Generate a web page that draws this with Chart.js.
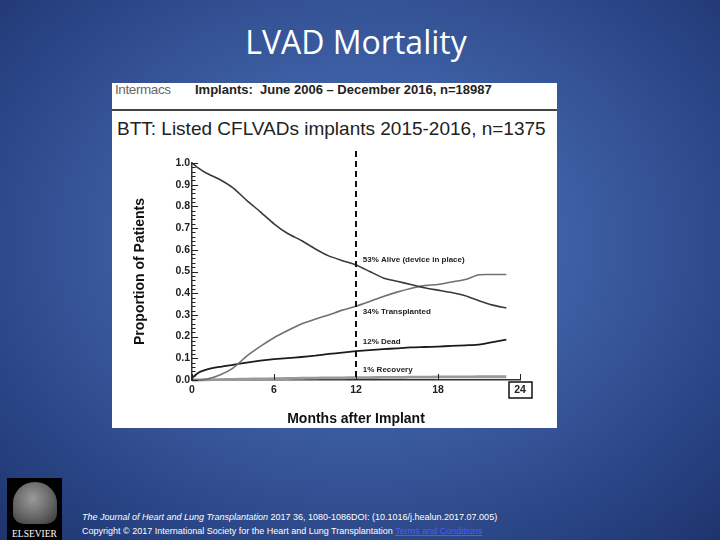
<!DOCTYPE html>
<html>
<head>
<meta charset="utf-8">
<script src="https://cdn.jsdelivr.net/npm/chart.js@4.4.1/dist/chart.umd.min.js"></script>
<style>
  html, body { margin: 0; padding: 0; }
  body {
    width: 720px; height: 540px; overflow: hidden; position: relative;
    background: radial-gradient(ellipse 75% 80% at 50% 45%, #4c6eb2 0%, #3d5ea3 40%, #26407f 80%, #1c3068 100%);
    font-family: "Liberation Sans", Arial, sans-serif;
  }
  #title {
    position: absolute; left: 0; width: 712px; top: 20px; text-align: center;
    color: #fff; font-family: "Open Sans", sans-serif; font-size: 32px;
  }
  #panel {
    position: absolute; left: 112px; top: 83px; width: 445px; height: 345px; background: #fff;
  }
  #logo {
    position: absolute; left: 3px; top: -1px; font-size: 13.5px; color: #666; letter-spacing: -0.4px;
  }
  #implants {
    position: absolute; left: 83px; top: -1px; font-size: 13px; font-weight: bold; color: #222;
  }
  #rule {
    position: absolute; left: 0; top: 26px; width: 445px; height: 2px; background: #444;
  }
  #subtitle {
    position: absolute; left: 5px; top: 35px; font-size: 19px; color: #222;
  }
  #chartBox { position: absolute; left: 0; top: 57px; width: 445px; height: 288px; }
  #elsevier {
    position: absolute; left: 7px; top: 478px; width: 55px; height: 62px; background: #000;
  }
  #elsevier span {
    position: absolute; bottom: 1px; left: 0; width: 55px; text-align: center;
    color: #fff; font-family: "Liberation Serif", serif; font-size: 9.5px;
  }
  #tree {
    position: absolute; left: 6px; top: 4px; width: 44px; height: 42px; border-radius: 50% 50% 25% 25%;
    background: radial-gradient(circle at 45% 40%, #9a9a9a 0%, #6a6a6a 50%, #333 100%);
  }
  .foot {
    position: absolute; left: 82px; color: #fff; font-size: 9px; white-space: nowrap;
  }
  .foot a { color: #4a5cff; text-decoration: underline; }
</style>
</head>
<body>
<div id="title">LVAD Mortality</div>
<div id="panel">
  <div id="logo">Intermacs</div>
  <div id="implants">Implants:&nbsp; June 2006 – December 2016, n=18987</div>
  <div id="rule"></div>
  <div id="subtitle">BTT: Listed CFLVADs implants 2015-2016, n=1375</div>
  <div id="chartBox"><canvas id="myChart" width="445" height="288"></canvas></div>
</div>
<div id="elsevier"><div id="tree"></div><span>ELSEVIER</span></div>
<div class="foot" style="top:512px"><i>The Journal of Heart and Lung Transplantation</i> 2017 36, 1080-1086DOI: (10.1016/j.healun.2017.07.005)</div>
<div class="foot" style="top:526px">Copyright © 2017 International Society for the Heart and Lung Transplantation <a>Terms and Conditions</a></div>

<script>
// Months after implant (x values shared by every curve)
const months = [0, 0.5, 1, 2, 3, 4, 5, 6, 7, 8, 9, 10, 11, 12, 13, 14, 15, 16, 17, 18, 19, 20, 21, 22, 23];

// Proportion of patients
const alive = [1.0, 0.975, 0.955, 0.925, 0.885, 0.828, 0.775, 0.72, 0.675, 0.643, 0.605, 0.572, 0.55, 0.53,
               0.5, 0.47, 0.455, 0.44, 0.425, 0.414, 0.403, 0.388, 0.365, 0.345, 0.332];
const transplanted = [0, 0, 0.003, 0.022, 0.055, 0.11, 0.155, 0.195, 0.228, 0.258, 0.28, 0.3, 0.322, 0.34,
                      0.362, 0.385, 0.405, 0.422, 0.435, 0.44, 0.452, 0.463, 0.485, 0.486, 0.486];
const dead = [0.01, 0.035, 0.047, 0.06, 0.07, 0.08, 0.089, 0.096, 0.101, 0.106, 0.112, 0.12, 0.126, 0.133,
              0.138, 0.142, 0.146, 0.15, 0.152, 0.154, 0.157, 0.16, 0.163, 0.175, 0.186];
const recovery = [0, 0, 0.001, 0.002, 0.003, 0.004, 0.005, 0.006, 0.007, 0.008, 0.009, 0.01, 0.01, 0.011,
                  0.011, 0.012, 0.012, 0.013, 0.013, 0.014, 0.014, 0.014, 0.015, 0.015, 0.015];

// Tick labels
const yTicks = [0, 0.1, 0.2, 0.3, 0.4, 0.5, 0.6, 0.7, 0.8, 0.9, 1.0];
const xTicks = [0, 6, 12, 18, 24];

// Curve annotations (month, proportion, text)
const noteMonth = 12.5;
const noteValues = [0.555, 0.315, 0.177, 0.048];
const noteTexts = ['53% Alive (device in place)', '34% Transplanted', '12% Dead', '1% Recovery'];

const landmarkMonth = 12;
const fontFamily = '"Liberation Sans", Arial, sans-serif';

function toPoints(values) {
    return values.map((v, i) => ({ x: months[i], y: v }));
}

// Draws inward tick marks, the dashed 12-month line, the notes and the boxed "24"
const extrasPlugin = {
    id: 'extras',
    afterDatasetsDraw(chart) {
        const { ctx, chartArea, scales: { x, y } } = chart;
        ctx.save();
        ctx.strokeStyle = '#222';
        ctx.lineWidth = 1;
        // y minor / major ticks
        for (let i = 0; i <= 50; i++) {
            const py = Math.round(y.getPixelForValue(i / 50)) + 0.5;
            const len = i % 5 === 0 ? 6 : 3.5;
            ctx.beginPath();
            ctx.moveTo(chartArea.left, py);
            ctx.lineTo(chartArea.left + len, py);
            ctx.stroke();
        }
        // x ticks
        xTicks.forEach(m => {
            const px = Math.round(x.getPixelForValue(m)) + 0.5;
            ctx.beginPath();
            ctx.moveTo(px, chartArea.bottom);
            ctx.lineTo(px, chartArea.bottom - 6);
            ctx.stroke();
        });
        // dashed landmark line
        const lx = x.getPixelForValue(landmarkMonth);
        ctx.strokeStyle = '#111';
        ctx.lineWidth = 2;
        ctx.setLineDash([6, 4]);
        ctx.beginPath();
        ctx.moveTo(lx, chartArea.top - 12);
        ctx.lineTo(lx, chartArea.bottom);
        ctx.stroke();
        ctx.setLineDash([]);
        // notes
        ctx.fillStyle = '#222';
        ctx.font = 'bold 8px ' + fontFamily;
        ctx.textBaseline = 'middle';
        noteTexts.forEach((t, i) => {
            ctx.fillText(t, x.getPixelForValue(noteMonth), y.getPixelForValue(noteValues[i]));
        });
        // box around last x label
        const bx = x.getPixelForValue(24);
        ctx.lineWidth = 1.5;
        ctx.strokeStyle = '#111';
        ctx.strokeRect(bx - 11, chartArea.bottom + 2, 23, 16);
        ctx.restore();
    }
};

let ctx = document.getElementById('myChart').getContext('2d');
let myChart = new Chart(ctx, {
    type: 'line',
    data: {
        datasets: [
            { label: 'Alive', data: toPoints(alive), borderColor: '#3a3a3a', borderWidth: 1.6 },
            { label: 'Transplanted', data: toPoints(transplanted), borderColor: '#707070', borderWidth: 1.6 },
            { label: 'Dead', data: toPoints(dead), borderColor: '#1c1c1c', borderWidth: 1.8 },
            { label: 'Recovery', data: toPoints(recovery), borderColor: '#999999', borderWidth: 2.8 }
        ].map(d => Object.assign(d, { pointRadius: 0, fill: false, tension: 0.2, clip: false }))
    },
    options: {
        responsive: false,
        animation: false,
        layout: { padding: { left: 0, right: 37, top: 23, bottom: 0 } },
        plugins: { legend: { display: false }, tooltip: { enabled: false } },
        scales: {
            x: {
                type: 'linear',
                min: 0,
                max: 24,
                afterFit: s => { s.height = 48; },
                afterBuildTicks: s => { s.ticks = xTicks.map(v => ({ value: v })); },
                ticks: { padding: 4, color: '#222', font: { family: fontFamily, size: 10.5, weight: 'bold' } },
                grid: { display: false, drawTicks: false },
                border: { display: true, color: '#333', width: 1.5 },
                title: {
                    display: true,
                    text: 'Months after Implant',
                    color: '#111',
                    padding: { top: 0, bottom: 0 },
                    font: { family: fontFamily, size: 14, weight: 'bold' }
                }
            },
            y: {
                min: 0,
                max: 1,
                afterFit: s => { s.width = 80; },
                afterBuildTicks: s => { s.ticks = yTicks.map(v => ({ value: v })); },
                ticks: {
                    padding: 2,
                    color: '#222',
                    font: { family: fontFamily, size: 10.5, weight: 'bold' },
                    callback: value => value.toFixed(1)
                },
                grid: { display: false, drawTicks: false },
                border: { display: true, color: '#333', width: 1.5 },
                title: {
                    display: true,
                    text: 'Proportion of Patients',
                    color: '#111',
                    padding: { top: 20, bottom: 0 },
                    font: { family: fontFamily, size: 14, weight: 'bold' }
                }
            }
        }
    },
    plugins: [extrasPlugin]
});
</script>
</body>
</html>
